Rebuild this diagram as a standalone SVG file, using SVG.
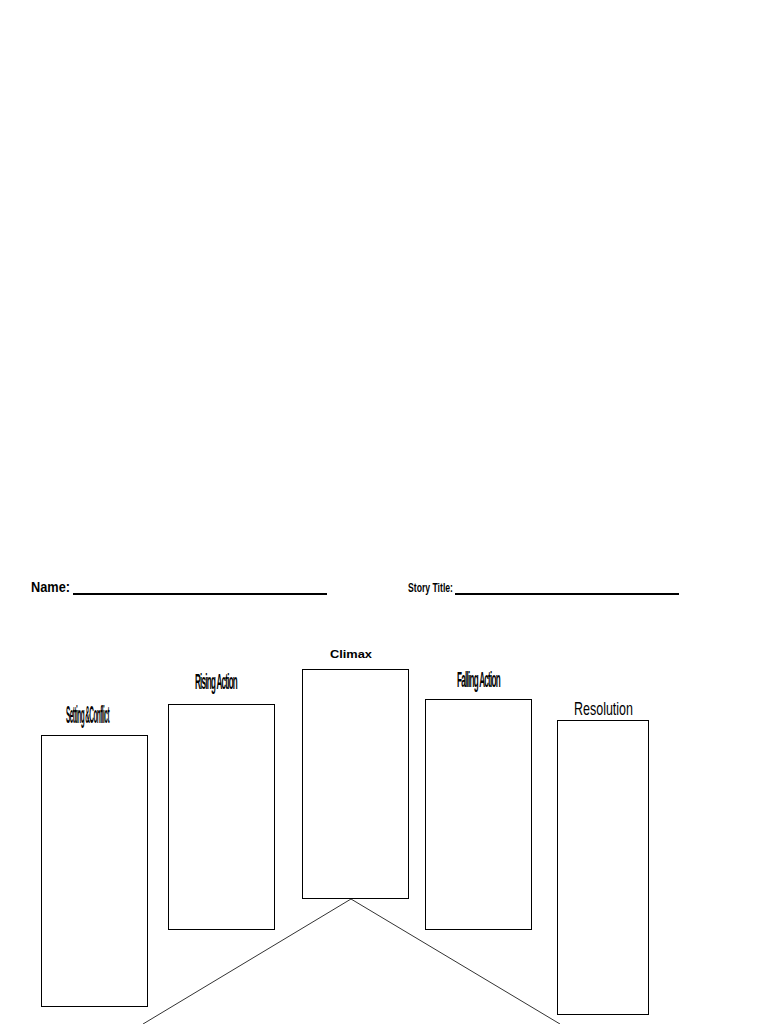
<svg xmlns="http://www.w3.org/2000/svg" width="768" height="1024" viewBox="0 0 768 1024">
<style>
.box{fill:#fff;stroke:#000;stroke-width:1}
.lbl{font-family:"Liberation Sans",Arial,sans-serif;fill:#000}
.cond{font-weight:bold;letter-spacing:-2px}
.u{stroke:#000;stroke-width:2}
.ln{stroke:#333;stroke-width:1;fill:none}
</style>
<rect width="768" height="1024" fill="#fff"/>
<g id="header">
<text class="lbl" x="31" y="592" font-size="14" font-weight="bold" textLength="39" lengthAdjust="spacingAndGlyphs">Name:</text>
<line class="u" x1="73" y1="594" x2="327" y2="594"/>
<text class="lbl" x="408" y="592" font-size="13" font-weight="bold" textLength="45" lengthAdjust="spacingAndGlyphs">Story Title:</text>
<line class="u" x1="455" y1="594" x2="679" y2="594"/>
</g>
<g id="connectors">
<line class="ln" x1="351" y1="899" x2="143" y2="1024"/>
<line class="ln" x1="351" y1="899" x2="560" y2="1024"/>
</g>
<g id="setting">
<text class="lbl cond" x="66" y="723" font-size="24" textLength="43" lengthAdjust="spacingAndGlyphs">Setting &amp;Conflict</text>
<rect class="box" x="41.5" y="735.5" width="106" height="271"/>
</g>
<g id="rising">
<text class="lbl cond" x="195" y="689" font-size="22" textLength="42" lengthAdjust="spacingAndGlyphs">Rising Action</text>
<rect class="box" x="168.5" y="704.5" width="106" height="225"/>
</g>
<g id="climax">
<text class="lbl" x="330" y="658" font-size="11" font-weight="bold" textLength="42" lengthAdjust="spacingAndGlyphs">Climax</text>
<rect class="box" x="302.5" y="669.5" width="106" height="229"/>
</g>
<g id="falling">
<text class="lbl cond" x="457" y="687" font-size="22" textLength="43" lengthAdjust="spacingAndGlyphs">Falling Action</text>
<rect class="box" x="425.5" y="699.5" width="106" height="230"/>
</g>
<g id="resolution">
<text class="lbl" x="574" y="715" font-size="19" textLength="59" lengthAdjust="spacingAndGlyphs">Resolution</text>
<rect class="box" x="557.5" y="720.5" width="91" height="294"/>
</g>
</svg>
